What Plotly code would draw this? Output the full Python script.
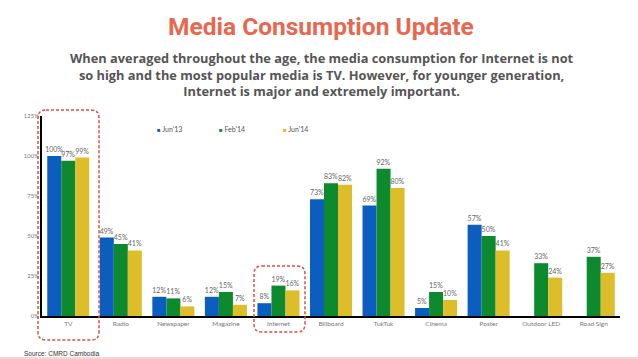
import plotly.graph_objects as go

categories = ["TV", "Radio", "Newspaper", "Magazine", "Internet", "Billboard",
              "TukTuk", "Cinema", "Poster", "Outdoor LED", "Road Sign"]
jun13 = [100, 49, 12, 12, 8, 73, 69, 5, 57, None, None]
feb14 = [97, 45, 11, 15, 19, 83, 92, 15, 50, 33, 37]
jun14 = [99, 41, 6, 7, 16, 82, 80, 10, 41, 24, 27]
series_names = ["Jun'13", "Feb'14", "Jun'14"]
colors = ["#0B5EC0", "#0E8A2E", "#DDBD2A"]
y_ticks = [0, 25, 50, 75, 100, 125]

W, H = 638, 359
L, R, T, B = 42, 18, 116, 43
PW, PH = W - L - R, H - T - B


def px(x):
    return (x - L) / PW


def py(y):
    return (H - B - y) / PH


fig = go.Figure()
for name, vals, col in zip(series_names, [jun13, feb14, jun14], colors):
    fig.add_trace(go.Bar(
        x=categories, y=vals, name=name, marker_color=col,
        marker_line_width=0, showlegend=False,
        text=[f"{v}%" if v is not None else "" for v in vals],
        textposition="outside", cliponaxis=False, constraintext="none",
        textfont=dict(family="Lato, sans-serif", size=7, color="#666666"),
    ))

fig.update_layout(
    width=W, height=H,
    margin=dict(l=L, r=R, t=T, b=B),
    paper_bgcolor="white", plot_bgcolor="white",
    barmode="group", bargap=0.2, bargroupgap=0,
    font=dict(family="Lato, sans-serif", color="#555555"),
    showlegend=False,
    xaxis=dict(showline=True, linecolor="black", linewidth=1.5, ticks="",
               tickfont=dict(size=6.5, color="#777777"), showgrid=False),
    yaxis=dict(range=[0, 125], tickvals=y_ticks,
               ticktext=[f"{v}%" for v in y_ticks],
               showline=True, linecolor="black", linewidth=1.5, showgrid=False,
               zeroline=False, ticks="", tickfont=dict(size=6, color="#777777")),
)

# Legend drawn as text annotations with coloured square glyphs
legend_x = [155, 217, 281]
for name, col, lx in zip(series_names, colors, legend_x):
    fig.add_annotation(
        text=f"<span style='color:{col};font-size:6px'>■</span> {name}",
        xref="paper", yref="paper", x=px(lx), y=py(129),
        xanchor="left", yanchor="middle", showarrow=False,
        font=dict(family="Lato, sans-serif", size=7, color="#555555"))

# Title, subtitle, source
fig.add_annotation(text="<b>Media Consumption Update</b>", xref="paper", yref="paper",
                   x=px(321), y=py(26), xanchor="center", yanchor="middle",
                   showarrow=False, font=dict(family="Roboto, sans-serif", size=24.5, color="#E8674F"))
fig.add_annotation(
    text="<b>When averaged throughout the age, the media consumption for Internet is not<br>"
         "so high and the most popular media is TV. However, for younger generation,<br>"
         "Internet is major and extremely important.</b>",
    xref="paper", yref="paper", x=px(322), y=py(74),
    xanchor="center", yanchor="middle", showarrow=False, align="center",
    font=dict(family="Open Sans, sans-serif", size=12.8, color="#555555"))
fig.add_annotation(text="Source: CMRD Cambodia", xref="paper", yref="paper",
                   x=px(22), y=py(353),
                   xanchor="left", yanchor="middle", showarrow=False,
                   font=dict(family="Liberation Sans, sans-serif", size=6.5, color="#333333"))


def rounded(x0, y0, x1, y1, r):
    return (f"M {px(x0 + r)} {py(y0)} L {px(x1 - r)} {py(y0)} "
            f"Q {px(x1)} {py(y0)} {px(x1)} {py(y0 + r)} L {px(x1)} {py(y1 - r)} "
            f"Q {px(x1)} {py(y1)} {px(x1 - r)} {py(y1)} L {px(x0 + r)} {py(y1)} "
            f"Q {px(x0)} {py(y1)} {px(x0)} {py(y1 - r)} L {px(x0)} {py(y0 + r)} "
            f"Q {px(x0)} {py(y0)} {px(x0 + r)} {py(y0)} Z")


for box in [(38, 110, 99, 340), (254, 266, 305, 332)]:
    fig.add_shape(type="path", path=rounded(*box, 8), xref="paper", yref="paper",
                  line=dict(color="#D9503C", width=1.5, dash="3px,2px"), layer="above")

fig.add_shape(type="line", xref="paper", yref="paper",
              x0=px(0), x1=px(W), y0=py(358), y1=py(358),
              line=dict(color="#F6D6D0", width=2))

fig.write_html("out.html", config={"displayModeBar": False},
               post_script="document.body.style.margin='0';document.body.style.overflow='hidden';")
